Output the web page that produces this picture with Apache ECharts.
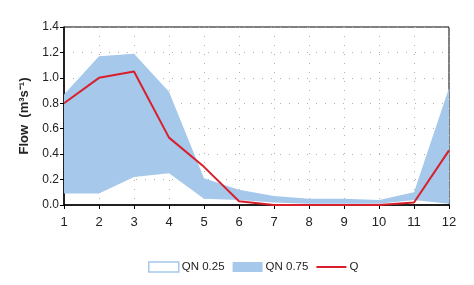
<!DOCTYPE html>
<html>
<head>
<meta charset="utf-8">
<script src="https://cdn.jsdelivr.net/npm/echarts@6/dist/echarts.min.js"></script>
<style>
html,body{margin:0;padding:0;background:#fff;}
#main{width:474px;height:285px;}
</style>
</head>
<body>
<div id="main"></div>
<script>
// months
var months=["1","2","3","4","5","6","7","8","9","10","11","12"];
// lower and upper quantiles of the flow
var qn25=[0.09,0.09,0.22,0.25,0.05,0.04,0.02,0.01,0.01,0.01,0.04,0.01];
var qn75=[0.87,1.17,1.19,0.89,0.21,0.12,0.07,0.05,0.05,0.04,0.10,0.92];
// observed flow
var q=[0.80,1.00,1.05,0.53,0.30,0.03,0.00,0.00,0.00,0.00,0.02,0.43];

var band=[];
for(var i=0;i<qn75.length;i++)
{
    band.push(+(qn75[i]-qn25[i]).toFixed(3));
}

var blue="#a6c8eb";
var myChart=echarts.init(document.getElementById("main"));
var dotted={color:"#b0b0b0",width:1,type:[1,8]};

option={
    animation:false,
    textStyle:{fontFamily:"Liberation Sans"},
    grid:{left:64,right:25,top:27,bottom:80,show:true,borderColor:"#000",borderWidth:1},
    legend:{
        top:256,left:143,
        itemWidth:30,itemHeight:10,itemGap:8,
        textStyle:{fontSize:11.5,color:"#222",padding:[0,0,0,-2]},
        data:[
            {name:"QN 0.25",icon:"rect",itemStyle:{color:"#fff",borderColor:blue,borderWidth:1.5}},
            {name:"QN 0.75",icon:"rect",itemStyle:{color:blue}},
            {name:"Q",icon:"path://M0,0h30v2h-30z",itemStyle:{color:"#d8202c"}}
        ]
    },
    xAxis:{
        type:"category",
        boundaryGap:false,
        data:months,
        axisLine:{lineStyle:{color:"#000",width:1.5}},
        axisTick:{alignWithLabel:true,length:4,lineStyle:{color:"#000"}},
        axisLabel:{color:"#222",fontSize:13,margin:11},
        splitLine:{show:true,lineStyle:dotted}
    },
    yAxis:{
        type:"value",
        min:0,max:1.4,interval:0.2,
        name:"Flow  (m\u00b3s\u207b\u00b9)",
        nameLocation:"middle",
        nameGap:32,
        nameTextStyle:{fontWeight:"bold",fontSize:13,color:"#222"},
        axisLine:{show:true,lineStyle:{color:"#000",width:1.5}},
        axisTick:{show:true,length:4,lineStyle:{color:"#000"}},
        axisLabel:{color:"#222",fontSize:12,margin:5,formatter:function(v){return v.toFixed(1);}},
        splitLine:{show:true,lineStyle:dotted}
    },
    series:[
        {
            name:"QN 0.25",type:"line",stack:"qn",data:qn25,
            symbol:"none",lineStyle:{width:0},
            itemStyle:{color:"#fff",borderColor:blue},
            areaStyle:{color:"rgba(255,255,255,0)"}
        },
        {
            name:"QN 0.75",type:"line",stack:"qn",data:band,
            symbol:"none",lineStyle:{width:0},
            itemStyle:{color:blue},
            areaStyle:{color:blue,opacity:1}
        },
        {
            name:"Q",type:"line",data:q,
            symbol:"none",
            itemStyle:{color:"#d8202c"},
            lineStyle:{color:"#d8202c",width:2}
        }
    ]
};
myChart.setOption(option);
</script>
</body>
</html>
